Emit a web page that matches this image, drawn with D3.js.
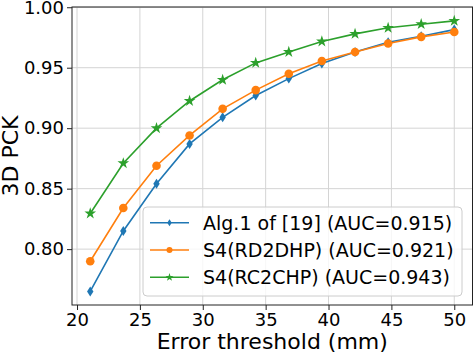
<!DOCTYPE html>
<html><head><meta charset="utf-8">
<script src="https://cdn.jsdelivr.net/npm/d3@7"></script>
<style>body{margin:0;background:#fff}svg{display:block}text{font-family:"DejaVu Sans",sans-serif}</style>
</head><body><svg id="c" width="474" height="356"></svg>
<script>
const thresholds = [21.05, 23.68, 26.32, 28.95, 31.58, 34.21, 36.84, 39.47, 42.11, 44.74, 47.37, 50.0];
const alg1 = [0.765, 0.815, 0.854, 0.887, 0.909, 0.927, 0.941, 0.9535, 0.963, 0.971, 0.976, 0.9815];
const s4rd = [0.790, 0.834, 0.869, 0.894, 0.916, 0.9315, 0.945, 0.9555, 0.963, 0.970, 0.9755, 0.9795];
const s4rc = [0.8295, 0.871, 0.900, 0.9225, 0.940, 0.954, 0.963, 0.9717, 0.978, 0.983, 0.986, 0.9887];
const seriesNames = ["Alg.1 of [19] (AUC=0.915)", "S4(RD2DHP) (AUC=0.921)", "S4(RC2CHP) (AUC=0.943)"];
const xTicks = [20, 25, 30, 35, 40, 45, 50];
const yTicks = [0.80, 0.85, 0.90, 0.95, 1.00];
const xLabel = "Error threshold (mm)";
const yLabel = "3D PCK";

const svg = d3.select("#c");
const L = 72, R = 472.5, T = 7, B = 305;
const x = d3.scaleLinear().domain([19.6, 51.45]).range([L, R]);
const y = d3.scaleLinear().domain([0.7538, 1.0002]).range([B, T]);

// grid
const g = svg.append("g");
g.selectAll(".gx").data(xTicks).join("line").attr("x1", d => x(d)).attr("x2", d => x(d))
  .attr("y1", T).attr("y2", B).attr("stroke", "#d4d4d4").attr("stroke-width", 1);
g.selectAll(".gy").data(yTicks).join("line").attr("y1", d => y(d)).attr("y2", d => y(d))
  .attr("x1", L).attr("x2", R).attr("stroke", "#d4d4d4").attr("stroke-width", 1);

const colors = ["#1f77b4", "#ff7f0e", "#2ca02c"];
const data = [alg1, s4rd, s4rc];
const line = d3.line().x((d, i) => x(thresholds[i])).y(d => y(d));

function marker(sel, k, cx, cy, scale) {
  scale = scale || 1;
  if (k === 0) {
    const w = 3.2 * scale, h = 5 * scale;
    sel.append("path").attr("d", `M${cx},${cy - h}L${cx + w},${cy}L${cx},${cy + h}L${cx - w},${cy}Z`)
      .attr("fill", colors[k]);
  } else if (k === 1) {
    sel.append("circle").attr("cx", cx).attr("cy", cy).attr("r", 4.3 * scale).attr("fill", colors[k]);
  } else {
    sel.append("path").attr("d", d3.symbol(d3.symbolStar, 42 * scale * scale)())
      .attr("transform", `translate(${cx},${cy})`).attr("fill", colors[k]);
  }
}

const plot = svg.append("g");
data.forEach((vals, k) => {
  plot.append("path").datum(vals).attr("d", line).attr("fill", "none")
    .attr("stroke", colors[k]).attr("stroke-width", 1.6);
  vals.forEach((v, i) => marker(plot, k, x(thresholds[i]), y(v)));
});

// spines
svg.append("rect").attr("x", L).attr("y", T).attr("width", R - L).attr("height", B - T)
  .attr("fill", "none").attr("stroke", "#222").attr("stroke-width", 1);

// axes
const xa = svg.append("g").attr("transform", `translate(0,${B})`)
  .call(d3.axisBottom(x).tickValues(xTicks).tickFormat(d3.format("d")).tickSize(5).tickPadding(3));
const ya = svg.append("g").attr("transform", `translate(${L},0)`)
  .call(d3.axisLeft(y).tickValues(yTicks).tickFormat(d3.format(".2f")).tickSize(5).tickPadding(3));
[xa, ya].forEach(a => {
  a.select(".domain").remove();
  a.selectAll("line").attr("stroke", "#222");
  a.selectAll("text").attr("font-size", 18).attr("fill", "#000").style("font-family", "DejaVu Sans");
});

svg.append("text").attr("x", (L + R) / 2).attr("y", 349).attr("text-anchor", "middle")
  .attr("font-size", 22).text(xLabel);
svg.append("text").attr("transform", `translate(18,${(T + B) / 2}) rotate(-90)`)
  .attr("text-anchor", "middle").attr("font-size", 22).text(yLabel);

// legend
const lg = svg.append("g");
lg.append("rect").attr("x", 143).attr("y", 207).attr("width", 319).attr("height", 89)
  .attr("rx", 4).attr("fill", "#fff").attr("fill-opacity", 0.8).attr("stroke", "#cccccc");
const rowY = [222.7, 250, 277.3];
seriesNames.forEach((n, k) => {
  lg.append("line").attr("x1", 150).attr("x2", 189).attr("y1", rowY[k]).attr("y2", rowY[k])
    .attr("stroke", colors[k]).attr("stroke-width", 1.6);
  marker(lg, k, 169.5, rowY[k], 0.7);
  lg.append("text").attr("x", 203).attr("y", rowY[k] + 7).attr("font-size", 19).text(n);
});
</script></body></html>
